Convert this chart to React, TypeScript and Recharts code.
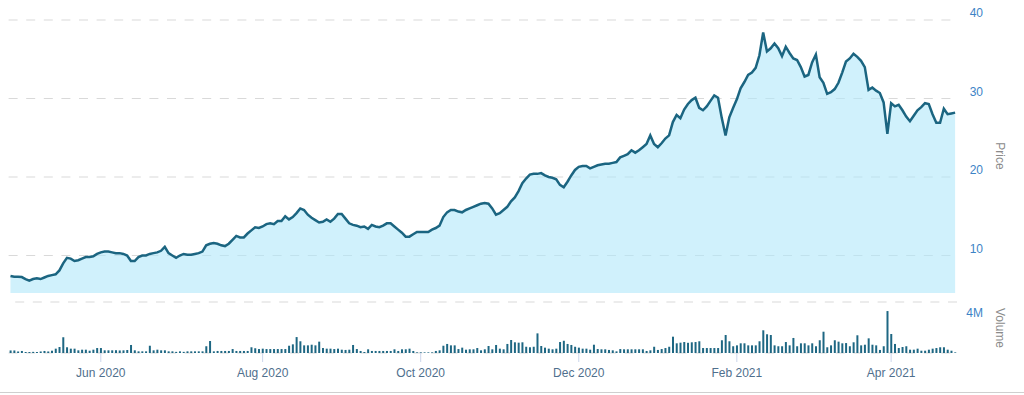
import { ComposedChart, Area, Bar, XAxis, YAxis, CartesianGrid, ReferenceLine } from 'recharts'

const FONT = '"Liberation Sans", Arial, Helvetica, sans-serif'

// closing price, one value per trading day (late Apr 2020 -> late Apr 2021)
const price = [
  7.4, 7.3, 7.3, 7.25, 7.0, 6.8, 7.0, 7.1, 7.0, 7.2,
  7.4, 7.5, 7.6, 8.1, 9.0, 9.7, 9.6, 9.3, 9.4, 9.6,
  9.8, 9.8, 9.9, 10.2, 10.4, 10.5, 10.5, 10.4, 10.3, 10.3,
  10.2, 10.0, 9.3, 9.3, 9.8, 10.0, 10.0, 10.2, 10.3, 10.4,
  10.6, 11.1, 10.3, 10.0, 9.7, 10.0, 10.2, 10.1, 10.1, 10.2,
  10.3, 10.5, 11.3, 11.5, 11.6, 11.5, 11.3, 11.2, 11.5, 12.0,
  12.5, 12.3, 12.3, 12.8, 13.2, 13.6, 13.5, 13.7, 14.0, 14.1,
  14.0, 14.4, 14.4, 15.0, 14.6, 14.9, 15.4, 16.0, 15.8, 15.2,
  14.8, 14.5, 14.2, 14.3, 14.6, 14.3, 14.7, 15.3, 15.3, 14.7,
  14.1, 13.9, 13.8, 13.6, 13.7, 13.4, 13.9, 13.7, 13.6, 13.8,
  14.1, 14.1, 13.7, 13.3, 12.9, 12.4, 12.4, 12.7, 13.0, 13.0,
  13.0, 13.0, 13.3, 13.5, 13.8, 14.9, 15.5, 15.8, 15.8, 15.6,
  15.5, 15.8, 16.0, 16.2, 16.4, 16.6, 16.7, 16.6, 16.0, 15.2,
  15.4, 15.8, 16.2, 16.9, 17.4, 18.2, 19.2, 19.8, 20.3, 20.4,
  20.4, 20.5, 20.2, 20.0, 19.9, 19.7, 19.0, 18.7, 19.4, 20.2,
  20.9, 21.3, 21.4, 21.4, 21.1, 21.3, 21.5, 21.6, 21.7, 21.7,
  21.8, 21.9, 22.5, 22.7, 22.9, 23.4, 23.1, 23.4, 23.8, 24.2,
  25.3, 24.2, 23.8, 24.3, 24.9, 25.3, 27.0, 27.9, 27.5, 28.6,
  29.3, 29.8, 30.1, 28.8, 28.5, 29.0, 29.7, 30.4, 30.1, 27.5,
  25.3, 27.6, 28.8, 29.9, 31.3, 32.1, 33.0, 33.3, 33.9, 35.5,
  38.4, 36.0, 36.4, 37.0, 36.4, 35.4, 36.6, 35.8, 35.1, 34.9,
  34.0, 32.8, 33.0, 34.6, 35.6, 32.7, 32.0, 30.6, 30.8, 31.2,
  32.0, 33.3, 34.7, 35.1, 35.7, 35.3, 34.8, 34.0, 31.1, 31.4,
  31.0, 30.7, 29.5, 25.5, 29.4, 29.0, 29.2, 28.5, 27.7, 27.1,
  27.8, 28.5, 28.9, 29.4, 29.3, 28.0, 26.9, 26.9, 28.7, 28.0,
  28.1, 28.2,
]

// daily volume, millions of shares
const volume = [
  0.20, 0.20, 0.12, 0.16, 0.08, 0.08, 0.09, 0.08, 0.12, 0.16,
  0.12, 0.18, 0.34, 0.47, 1.23, 0.45, 0.34, 0.34, 0.21, 0.26,
  0.26, 0.18, 0.26, 0.39, 0.39, 0.21, 0.21, 0.21, 0.22, 0.20,
  0.21, 0.23, 0.63, 0.21, 0.13, 0.13, 0.13, 0.57, 0.21, 0.26,
  0.21, 0.21, 0.13, 0.13, 0.09, 0.13, 0.09, 0.13, 0.13, 0.13,
  0.13, 0.13, 0.53, 0.94, 0.13, 0.16, 0.16, 0.16, 0.16, 0.31,
  0.16, 0.16, 0.16, 0.16, 0.45, 0.37, 0.31, 0.34, 0.31, 0.31,
  0.31, 0.31, 0.31, 0.31, 0.57, 0.68, 1.25, 0.92, 0.60, 0.60,
  0.65, 0.60, 0.89, 0.39, 0.34, 0.34, 0.31, 0.34, 0.26, 0.24,
  0.26, 0.63, 0.31, 0.16, 0.08, 0.29, 0.16, 0.16, 0.16, 0.16,
  0.16, 0.16, 0.29, 0.16, 0.29, 0.29, 0.34, 0.16, 0.05, 0.05,
  0.05, 0.05, 0.05, 0.16, 0.21, 0.57, 0.71, 0.60, 0.60, 0.31,
  0.42, 0.26, 0.29, 0.29, 0.39, 0.21, 0.29, 0.55, 0.29, 0.63,
  0.34, 0.29, 0.71, 1.02, 0.84, 0.81, 0.84, 0.49, 0.45, 0.49,
  1.54, 0.55, 0.42, 0.34, 0.29, 0.34, 0.86, 0.96, 0.71, 0.63,
  0.49, 0.42, 0.34, 0.34, 0.26, 0.65, 0.31, 0.29, 0.29, 0.24,
  0.21, 0.13, 0.31, 0.29, 0.29, 0.29, 0.29, 0.29, 0.29, 0.16,
  0.21, 0.49, 0.24, 0.31, 0.39, 0.49, 1.28, 0.76, 0.81, 0.86,
  0.80, 0.84, 0.86, 0.92, 0.39, 0.39, 0.39, 0.39, 0.39, 1.00,
  1.41, 0.92, 0.53, 0.60, 0.76, 0.76, 0.60, 0.60, 0.60, 0.92,
  1.78, 1.47, 1.41, 0.60, 0.53, 0.53, 0.86, 0.60, 1.18, 0.53,
  0.76, 0.76, 0.60, 0.76, 0.53, 1.00, 1.67, 0.45, 0.60, 1.00,
  0.89, 0.76, 0.78, 0.53, 0.84, 1.39, 0.60, 0.65, 1.15, 0.65,
  0.60, 0.24, 0.53, 3.29, 1.49, 0.71, 0.39, 0.47, 0.53, 0.26,
  0.26, 0.34, 0.18, 0.18, 0.26, 0.34, 0.39, 0.45, 0.45, 0.26,
  0.18, 0.05,
]

// first trading day of each labelled month
const tickIdx = [24, 67, 109, 151, 193, 234]
const tickLabels = ['Jun 2020', 'Aug 2020', 'Oct 2020', 'Dec 2020', 'Feb 2021', 'Apr 2021']
const priceTicks = [10, 20, 30, 40]
const volumeTicks = [4]

const C = {
  line: '#1b6581',
  fill: '#b0e8fa',
  bar: '#1e6783',
  grid: '#d9d9d9',
  axisBlue: '#3c83c6',
  xLabel: '#4f6f8d',
  title: '#8a8a8a',
}

function PriceTick({ y, payload }: any) {
  return (
    <text x={983} y={y - 7} dy="0.35em" textAnchor="end" fill={C.axisBlue} fontSize={12} fontFamily={FONT}>
      {payload.value}
    </text>
  )
}

function VolumeTick({ y, payload }: any) {
  return (
    <text x={983} y={y + 11} dy="0.35em" textAnchor="end" fill={C.axisBlue} fontSize={12} fontFamily={FONT}>
      {payload.value}M
    </text>
  )
}

export default function App() {
  const data = price.map((p, i) => ({ i, price: p, volume: volume[i] }))

  return (
    <div style={{ position: 'absolute', left: 0, top: 0, width: 1024, height: 393, background: 'white', borderBottom: '1px solid #cfcfcf', boxSizing: 'border-box' }}>
      <ComposedChart width={1024} height={395} data={data} margin={{ top: 20, right: 0, bottom: 12, left: 8.6 }} style={{ position: 'absolute', left: 0, top: 0 }}>
        <CartesianGrid yAxisId="price" vertical={false} stroke={C.grid} strokeDasharray="9 8.6" />
        <XAxis
          dataKey="i"
          type="category"
          ticks={tickIdx}
          interval={0}
          tickFormatter={(v) => tickLabels[tickIdx.indexOf(v)] ?? ''}
          axisLine={false}
          tickLine={{ stroke: '#ccd6eb' }}
          tickSize={9}
          tickMargin={6}
          height={30}
          tick={{ fill: C.xLabel, fontSize: 12, fontFamily: FONT }}
        />
        <YAxis
          yAxisId="price"
          orientation="right"
          domain={[-2.42, 40]}
          ticks={priceTicks}
          allowDataOverflow
          axisLine={false}
          tickLine={false}
          width={60}
          tick={<PriceTick />}
        />
        <YAxis
          yAxisId="vol"
          orientation="right"
          domain={[0, 26.12]}
          ticks={volumeTicks}
          allowDataOverflow
          axisLine={false}
          tickLine={false}
          width={7}
          tick={<VolumeTick />}
        />
        <ReferenceLine yAxisId="vol" y={4} stroke={C.grid} strokeDasharray="9 8.6" />
        <Area
          yAxisId="price"
          type="linear"
          dataKey="price"
          stroke={C.line}
          strokeWidth={2.5}
          fill={C.fill}
          fillOpacity={0.6}
          baseValue={5.22}
          dot={false}
          activeDot={false}
          isAnimationActive={false}
        />
        <Bar yAxisId="vol" dataKey="volume" fill={C.bar} barSize={2} isAnimationActive={false} />
      </ComposedChart>
      <div style={{ position: 'absolute', left: 1000, top: 156, transform: 'translate(-50%, -50%) rotate(90deg)', fontSize: 12, fontFamily: FONT, color: C.title, whiteSpace: 'nowrap' }}>
        Price
      </div>
      <div style={{ position: 'absolute', left: 1000, top: 328, transform: 'translate(-50%, -50%) rotate(90deg)', fontSize: 12, fontFamily: FONT, color: C.title, whiteSpace: 'nowrap' }}>
        Volume
      </div>
    </div>
  )
}
